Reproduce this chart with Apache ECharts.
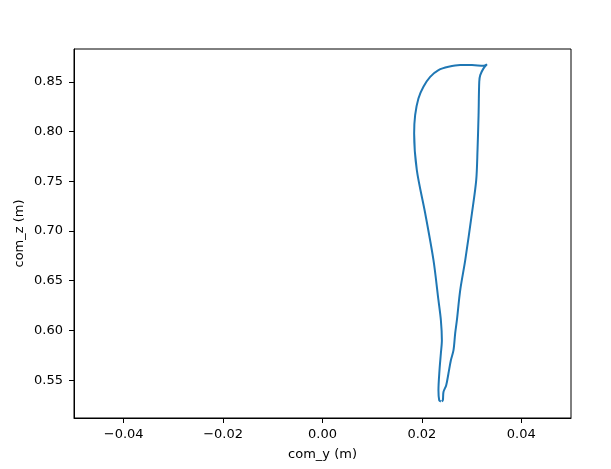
<!DOCTYPE html>
<html>
<head>
<meta charset="utf-8">
<script src="https://cdn.jsdelivr.net/npm/echarts@6/dist/echarts.min.js"></script>
<style>html,body{margin:0;padding:0;background:#fff;}#c{width:611px;height:469px;}</style>
</head>
<body>
<div id="c"></div>
<script>
// trajectory of centre of mass (com_y, com_z), in metres
const comY = [0.02382,0.02348,0.02333,0.02354,0.02382,0.02402,0.02382,0.02333,0.02233,0.02066,0.01898,0.01844,0.01864,0.01930,0.02031,0.02166,0.02334,0.02535,0.02771,0.03007,0.03240,0.03309,0.03240,0.03174,0.03154,0.03140,0.03119,0.03093,0.03007,0.02872,0.02771,0.02704,0.02670,0.02636,0.02583,0.02535,0.02489,0.02434,0.02422,0.02400];
const comZ = [0.5286,0.5299,0.5399,0.5600,0.5771,0.5902,0.6103,0.6304,0.6707,0.7179,0.7612,0.7981,0.8165,0.8333,0.8450,0.8550,0.8618,0.8651,0.8668,0.8668,0.8661,0.8675,0.8635,0.8567,0.8500,0.8165,0.7813,0.7511,0.7179,0.6707,0.6405,0.6103,0.5973,0.5802,0.5701,0.5570,0.5450,0.5382,0.5299,0.5286];
const xTicks = [-0.04,-0.02,0.00,0.02,0.04];
const yTicks = [0.55,0.60,0.65,0.70,0.75,0.80,0.85];

const fmt = v => (v < 0 ? '\u2212' : '') + Math.abs(v).toFixed(2);
const font = 'DejaVu Sans';
const chart = echarts.init(document.getElementById('c'), null, {renderer:'canvas'});
chart.setOption({
  animation:false,
  backgroundColor:'#fff',
  grid:{left:74, top:49, width:497, height:369, show:true, borderColor:'#000', borderWidth:1, backgroundColor:'transparent'},
  xAxis:{
    type:'value', min:-0.05, max:0.05,
    name:'com_y (m)', nameLocation:'middle', nameGap:30,
    nameTextStyle:{color:'#000', fontFamily:font, fontSize:13},
    axisLine:{show:true, onZero:false, lineStyle:{color:'#000', width:1}},
    axisTick:{show:true, inside:false, length:5, lineStyle:{color:'#000'}, customValues:xTicks},
    axisLabel:{color:'#000', fontFamily:font, fontSize:13, margin:10, customValues:xTicks, formatter:fmt},
    splitLine:{show:false}
  },
  yAxis:{
    type:'value', min:0.5120, max:0.8830,
    name:'com_z (m)', nameLocation:'middle', nameGap:48, nameRotate:90, nameMoveOverlap:false,
    nameTextStyle:{color:'#000', fontFamily:font, fontSize:13},
    axisLine:{show:true, onZero:false, lineStyle:{color:'#000', width:1}},
    axisTick:{show:true, inside:false, length:5, lineStyle:{color:'#000'}, customValues:yTicks},
    axisLabel:{color:'#000', fontFamily:font, fontSize:13, margin:11, customValues:yTicks, formatter:fmt},
    splitLine:{show:false}
  },
  series:[{
    type:'line',
    data:comY.map((y,i)=>[y, comZ[i]]),
    showSymbol:false,
    smooth:0.3,
    lineStyle:{color:'#1f77b4', width:2},
    clip:true
  }]
});
</script>
</body>
</html>
